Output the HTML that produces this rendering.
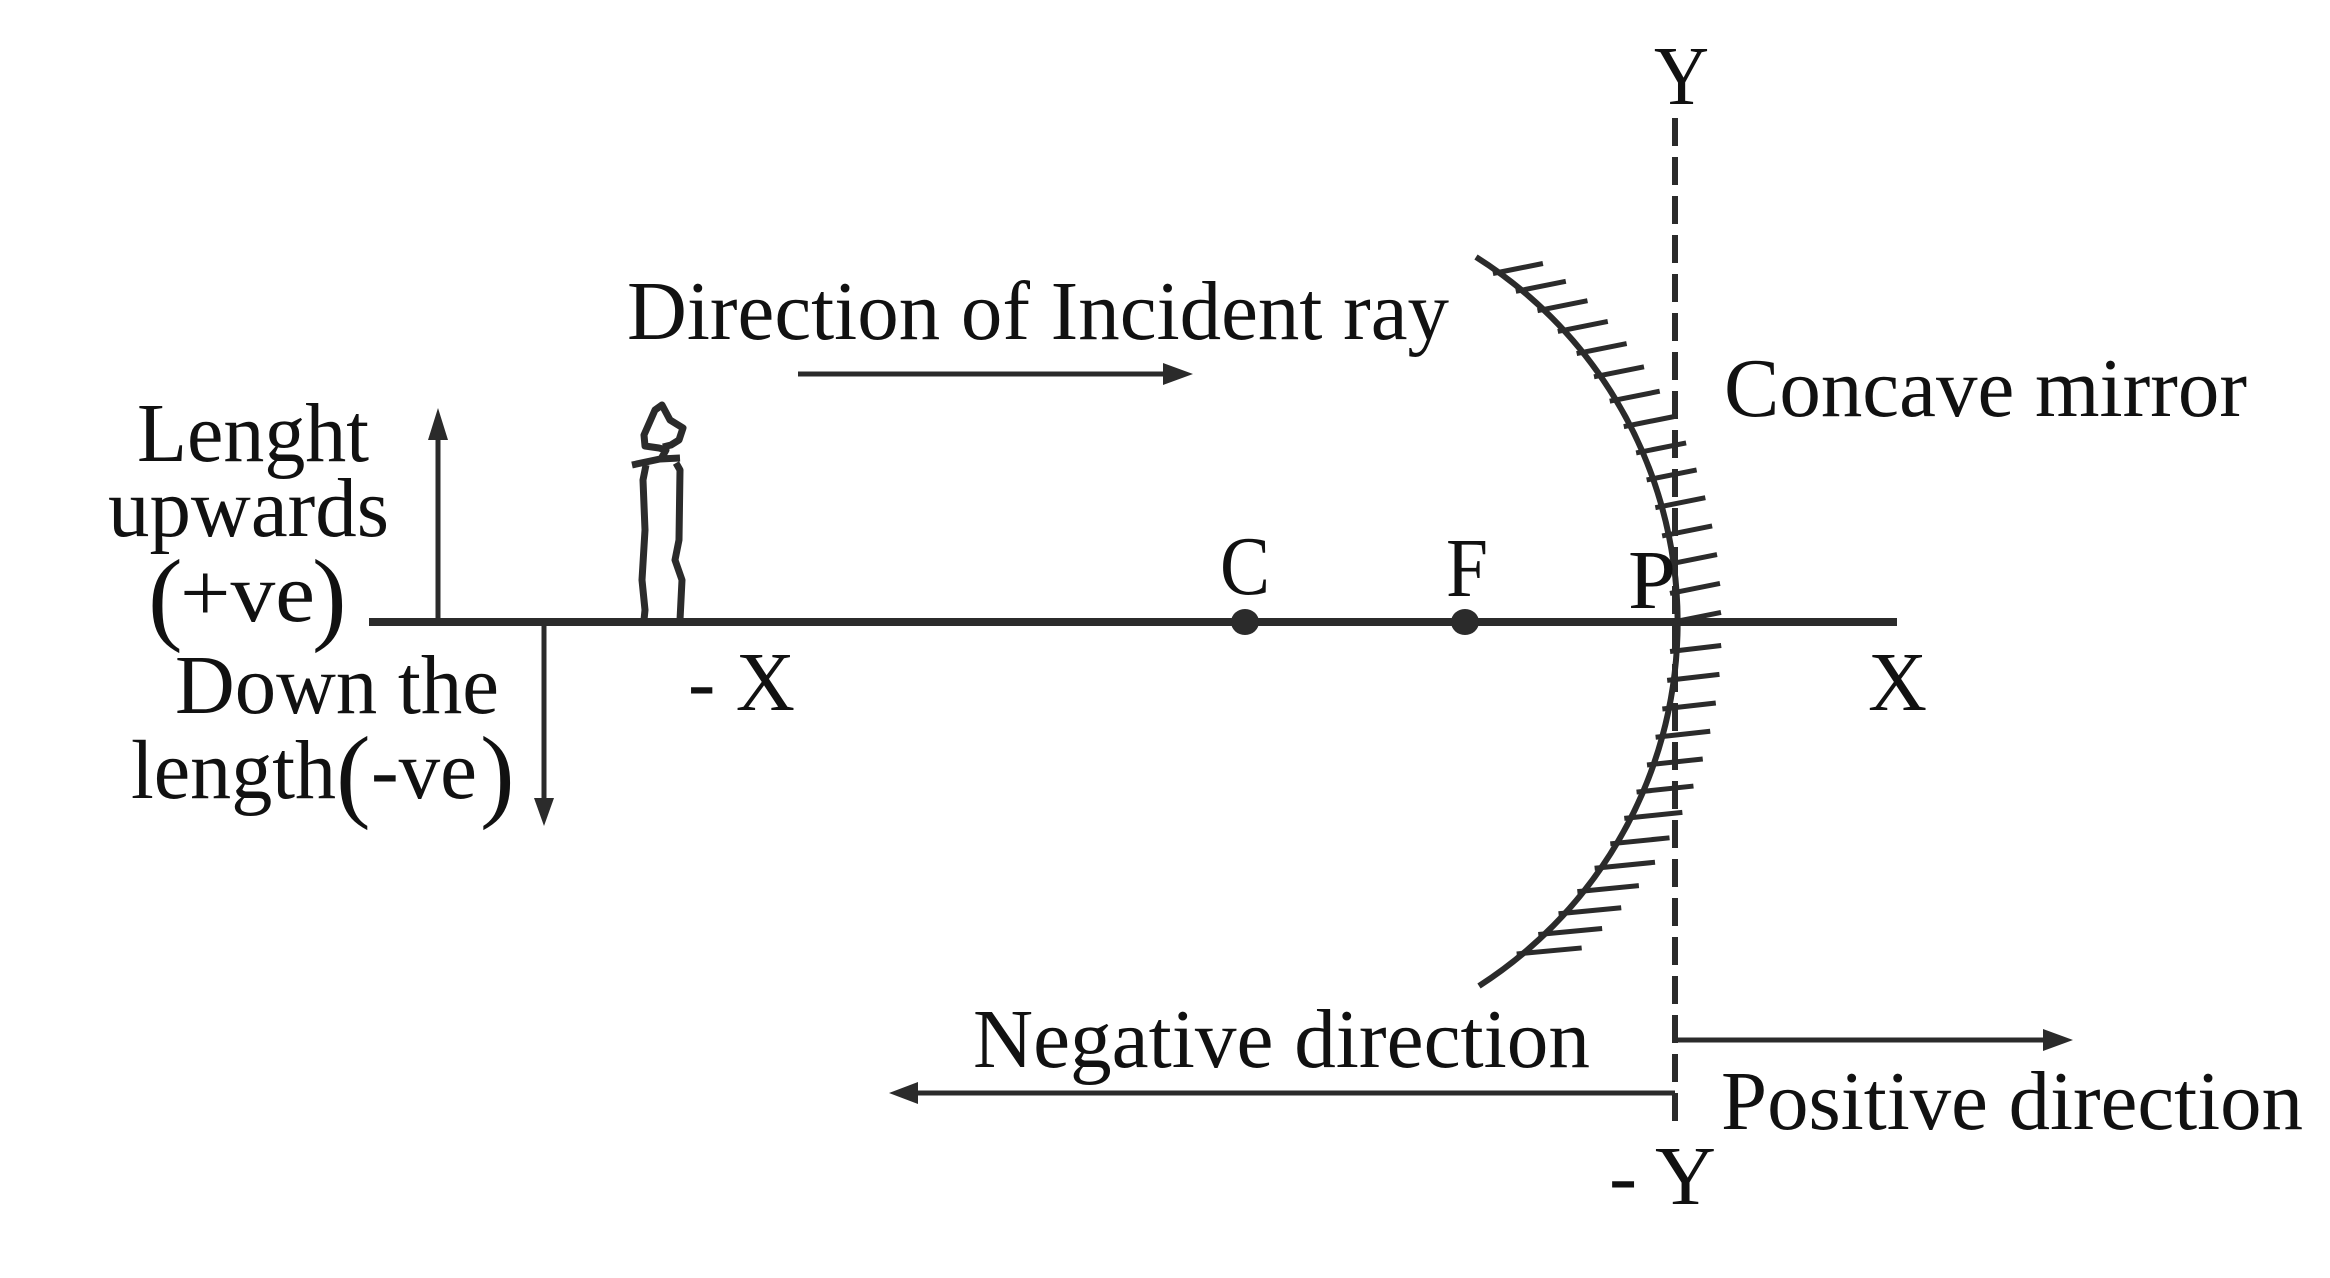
<!DOCTYPE html>
<html><head><meta charset="utf-8"><style>
html,body{margin:0;padding:0;background:#fff;}
svg{display:block;}
text{font-family:"Liberation Serif",serif;fill:#111;}
</style></head><body>
<svg id="s" width="2330" height="1278" viewBox="0 0 2330 1278" xmlns="http://www.w3.org/2000/svg">
<g stroke="#2b2b2b" fill="none" stroke-linecap="butt">
<line x1="369" y1="622" x2="1897" y2="622" stroke-width="8"/>
<line x1="1675" y1="118" x2="1675" y2="1124" stroke-width="6" stroke-dasharray="28,11"/>
<line x1="438" y1="622" x2="438" y2="440" stroke-width="5"/>
<line x1="544" y1="622" x2="544" y2="800" stroke-width="5"/>
<line x1="798" y1="374" x2="1165" y2="374" stroke-width="5"/>
<line x1="1675" y1="1093" x2="915" y2="1093" stroke-width="5"/>
<line x1="1675" y1="1040" x2="2045" y2="1040" stroke-width="5"/>
<path d="M1476 257 A432 432 0 0 1 1479 986" stroke-width="6"/>
<g id="hatch" stroke-width="5"></g>
<path d="M646 465 L643 480 L645 530 L642 580 L645 610 L644 620 M676 463 L680 470 L679 540 L675 560 L682 580 L680 620" stroke-width="7" stroke-linejoin="round"/>
<path d="M632 465 L660 459 L680 458 M661 459 L666 450 L659 448 L645 446 L644 435 L655 410 L662 405 L670 420 L683 428 L679 440 L671 445 L663 447" stroke-width="7" stroke-linejoin="round"/>
</g>
<g fill="#2b2b2b">
<polygon points="438,408 428,440 448,440"/>
<polygon points="544,826 534,798 554,798"/>
<polygon points="1193,374 1163,363 1163,385"/>
<polygon points="889,1093 918,1082 918,1104"/>
<polygon points="2073,1040 2043,1029 2043,1051"/>
<ellipse cx="1245" cy="622" rx="14" ry="13"/>
<ellipse cx="1465" cy="622" rx="14" ry="13"/>
</g>
<g font-size="84">
<text x="627" y="339" textLength="822" lengthAdjust="spacingAndGlyphs">Direction of Incident ray</text>
<text x="1724" y="416" textLength="523" lengthAdjust="spacingAndGlyphs">Concave mirror</text>
<text x="137" y="461" textLength="232" lengthAdjust="spacingAndGlyphs">Lenght</text>
<text x="108" y="536" textLength="281" lengthAdjust="spacingAndGlyphs">upwards</text>
<text x="180" y="621" textLength="135" lengthAdjust="spacingAndGlyphs">+ve</text>
<text x="148" y="631" font-size="104">(</text>
<text x="312" y="631" font-size="104">)</text>
<text x="175" y="713" textLength="324" lengthAdjust="spacingAndGlyphs">Down the</text>
<text x="131" y="798" textLength="205" lengthAdjust="spacingAndGlyphs">length</text>
<text x="336" y="808" font-size="104">(</text>
<text x="371" y="798" textLength="106" lengthAdjust="spacingAndGlyphs">-ve</text>
<text x="480" y="808" font-size="104">)</text>
<text x="688" y="710" textLength="107" lengthAdjust="spacingAndGlyphs">- X</text>
<text x="1868" y="710" textLength="59" lengthAdjust="spacingAndGlyphs">X</text>
<text x="1220" y="594" textLength="50" lengthAdjust="spacingAndGlyphs">C</text>
<text x="1446" y="596" textLength="42" lengthAdjust="spacingAndGlyphs">F</text>
<text x="1628" y="608" textLength="48" lengthAdjust="spacingAndGlyphs">P</text>
<text x="1654" y="104" textLength="55" lengthAdjust="spacingAndGlyphs">Y</text>
<text x="973" y="1067" textLength="617" lengthAdjust="spacingAndGlyphs">Negative direction</text>
<text x="1721" y="1129" textLength="582" lengthAdjust="spacingAndGlyphs">Positive direction</text>
<text x="1609" y="1204" textLength="107" lengthAdjust="spacingAndGlyphs">- Y</text>
</g>
</svg>
<script>
(function(){
var g=document.getElementById('hatch'),ns='http://www.w3.org/2000/svg';
var cx=1243,cy=622,R=432,n=28;
for(var i=0;i<n;i++){
 var deg=-54+i*(104/(n-1));
 var a=deg*Math.PI/180;
 var x=cx+R*Math.cos(a),y=cy+R*Math.sin(a);
 var l=document.createElementNS(ns,'line');
 var dx=deg>0?46+deg*0.3:46, dy=deg>0?-5:-9;
 l.setAttribute('x1',x-4);l.setAttribute('y1',y+1);
 l.setAttribute('x2',x+dx);l.setAttribute('y2',y+dy);
 g.appendChild(l);
}
})();
</script>
</body></html>
